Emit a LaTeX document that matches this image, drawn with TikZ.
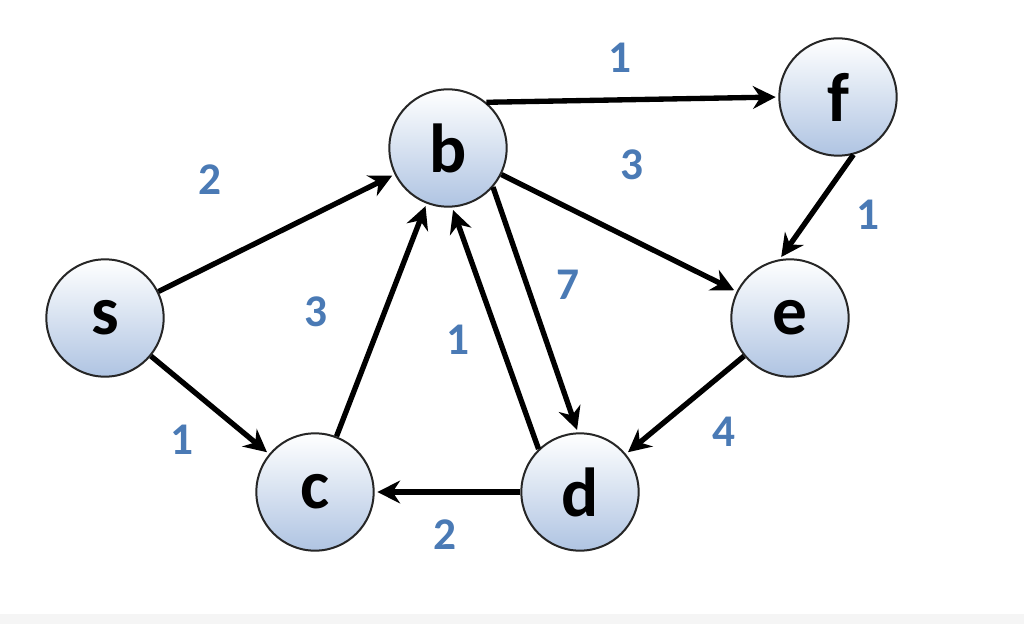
\documentclass[tikz,border=0pt]{standalone}
\usepackage{fontspec}
\setmainfont{Carlito}
\usetikzlibrary{arrows.meta}
\definecolor{lbl}{HTML}{4A7AB5}
\definecolor{nodeb}{HTML}{AFC4E2}
\begin{document}
\begin{tikzpicture}[x=0.75pt,y=-0.75pt,
  vert/.style={circle,draw=black!85,line width=1.5pt,minimum size=88pt,inner sep=0pt,
    top color=white,bottom color=nodeb,font=\fontsize{52}{52}\selectfont\bfseries},
  edge/.style={line width=4pt,-{Stealth[length=17pt,width=17pt]},shorten >=2pt},
  wt/.style={text=lbl,font=\fontsize{34}{34}\selectfont\bfseries}]
\fill[white] (0,0) rectangle (1024,624);
\fill[black!4] (0,614) rectangle (1024,624);
\node[vert] (s) at (105,318) {s};
\node[vert] (b) at (448,148) {b};
\node[vert] (f) at (838,97) {f};
\node[vert] (e) at (790,318) {e};
\node[vert] (c) at (315,492) {c};
\node[vert] (d) at (580,492) {d};
\draw[edge] (s) -- (b);
\draw[edge] (s) -- (c);
\draw[edge] (c) -- (b);
\draw[edge] (b.50) -- (f.180);
\draw[edge] (b) -- (e);
\draw[edge] (f.-75) -- (e.100);
\draw[edge] (e) -- (d);
\draw[edge] (d) -- (c);
\draw[edge] (b.-41) -- (d.92);
\draw[edge] (d.134) -- (b.-86);
\node[wt] (w1) at (620,58) {1};
\node[wt] (w2) at (210,180) {2};
\node[wt] (w3) at (632,165) {3};
\node[wt] (w4) at (868,215) {1};
\node[wt] (w5) at (568,285) {7};
\node[wt] (w6) at (316,312) {3};
\node[wt] (w7) at (458,340) {1};
\node[wt] (w8) at (182,440) {1};
\node[wt] (w9) at (724,432) {4};
\node[wt] (w10) at (445,535) {2};
\end{tikzpicture}
\end{document}
